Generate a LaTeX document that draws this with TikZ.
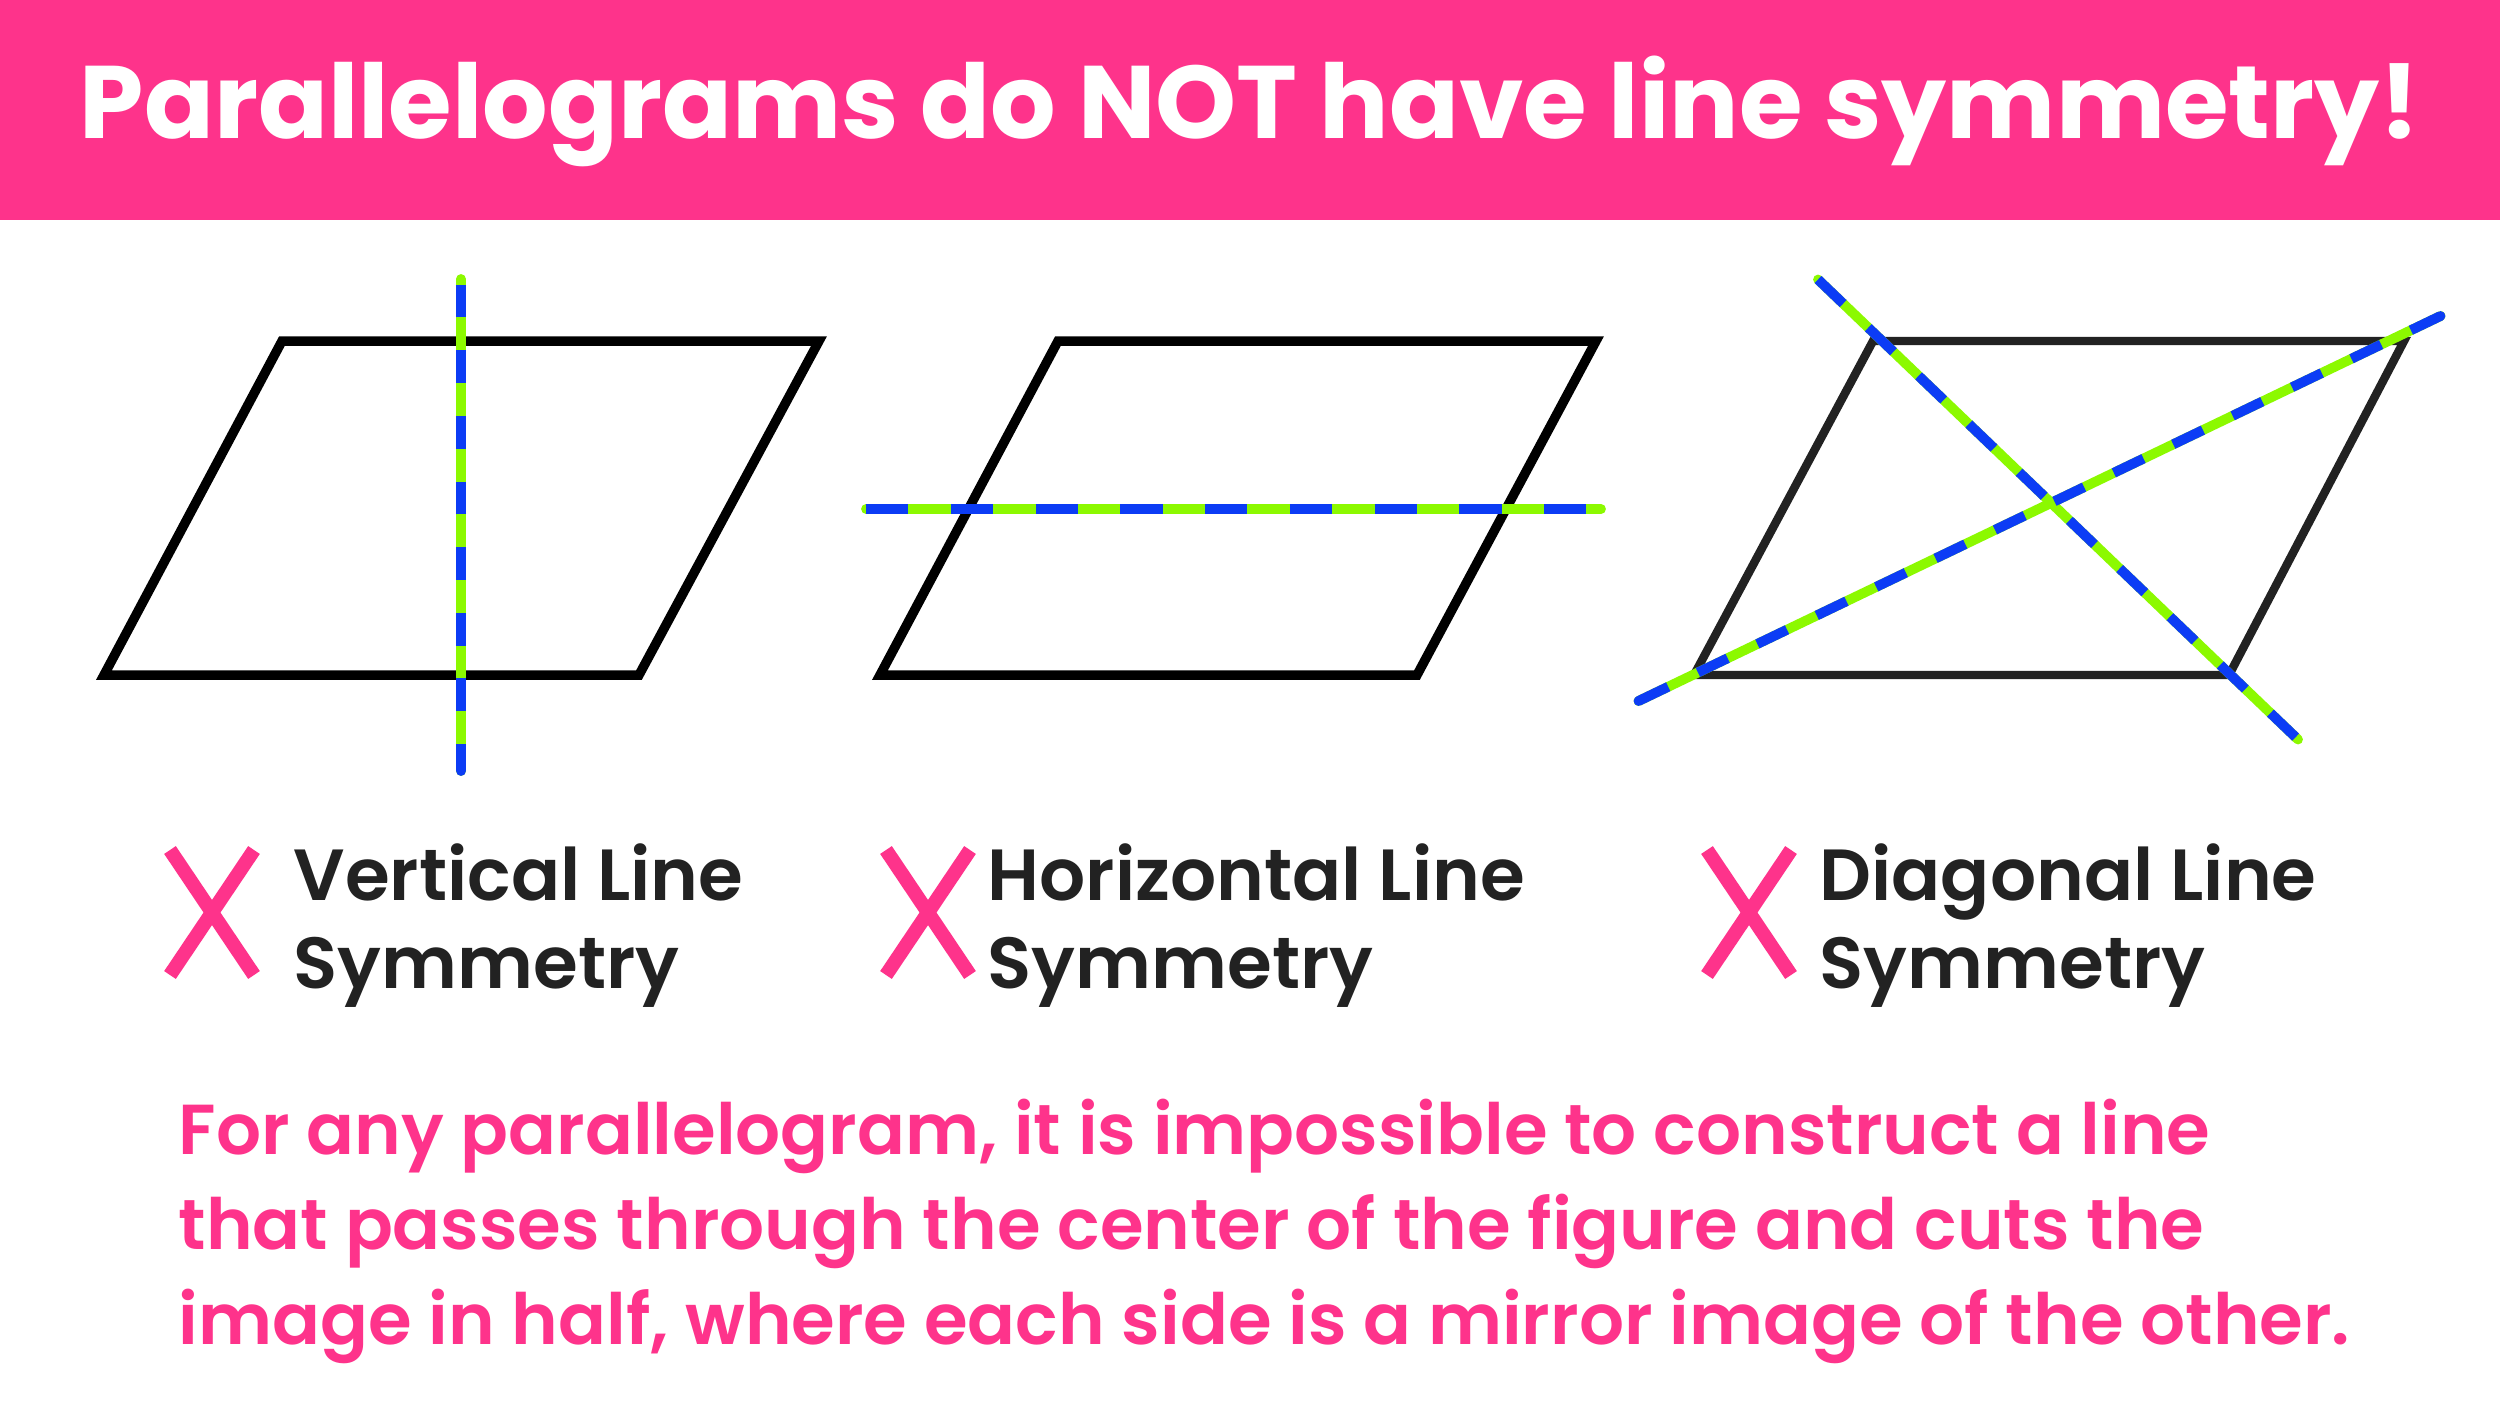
\documentclass[tikz,border=0pt]{standalone}
\usepackage{fontspec}
\setmainfont{Poppins}
\newfontfamily\semifont{Poppins SemiBold}
\usetikzlibrary{positioning}
\definecolor{hotpink}{HTML}{FE338B}
\definecolor{inkgrey}{HTML}{222222}
\definecolor{stripegreen}{HTML}{8CF900}
\definecolor{stripeblue}{HTML}{0C3CF5}

\begin{document}
\begin{tikzpicture}[x=0.01cm,y=-0.01cm]
\tikzset{
    banner/.style={
           rectangle,
           fill=hotpink,
           minimum width=25cm,
           minimum height=2.2cm,
           inner sep=0pt},
    headline/.style={
           text=white,
           inner sep=0pt,
           font=\fontsize{29.3}{31}\selectfont\bfseries},
    % parallelogram outline
    outline/.style={
           line width=2.7pt,
           miter limit=10,
           draw=black},
    % two coloured line of symmetry
    stripe/.style={
           line width=2.8pt,
           draw=stripeblue,
           dash pattern=on #1 off #1,
           preaction={draw=stripegreen,solid,line width=2.8pt,line cap=round}
    },
    crossbar/.style={
           line width=4pt,
           draw=hotpink},
    caption/.style={
           anchor=north west,
           inner sep=0pt,
           align=left,
           text=inkgrey,
           font=\fontsize{20.6}{25}\selectfont\semifont},
    remark/.style={
           anchor=north west,
           inner sep=0pt,
           align=left,
           text=hotpink,
           font=\fontsize{20.1}{27}\selectfont\semifont}
}
\useasboundingbox (0,0) rectangle (2500,1406);
\fill[white] (0,0) rectangle (2500,1406);
\node[banner] (banner) at (1250,110) {};
\node[headline,yshift=-0.5pt] (headline) at (banner.center) {Parallelograms do NOT have line symmetry!};
% the three figures
\draw[outline] (282,341) -- (819,341) -- (639,675) -- (104,675) -- cycle;
\draw[outline] (1058,341) -- (1596,341) -- (1417,675) -- (880,675) -- cycle;
\draw[outline,draw=inkgrey,line width=2.4pt] (1873,341) -- (2404,341) -- (2229,675) -- (1694,675) -- cycle;
% lines of symmetry
\coordinate (vtop) at (461,279);
\coordinate (vbot) at (461,771);
\coordinate (hleft) at (866,509);
\coordinate (hright) at (1601,509);
\coordinate (dtop) at (1818,279.5);
\coordinate (dbot) at (2298,739.5);
\coordinate (ebot) at (1638.5,701);
\coordinate (etop) at (2440.5,316);
\draw[stripe=9.33pt,dash phase=1.65pt] (vbot) -- (vtop);
\draw[stripe=12.05pt] (hleft) -- (hright);
\draw[stripe=9.9pt] (dtop) -- (dbot);
\draw[stripe=9.37pt] (ebot) -- (etop);
\foreach \tip in {vbot,ebot,etop}{
    \fill[stripeblue] (\tip) circle (1.4pt);
}
% crosses
\foreach \name/\xpos in {one/212,two/928,three/1749}{
    \coordinate (\name a) at (\xpos-42,850);
    \coordinate (\name b) at (\xpos+42,975);
    \coordinate (\name c) at (\xpos+42,850);
    \coordinate (\name d) at (\xpos-42,975);
    \draw[crossbar] (\name a) -- (\name b);
    \draw[crossbar] (\name c) -- (\name d);
}
\node[caption] (vertical) at (293,843) {Vertical Line\\Symmetry};
\node[caption] (horizontal) at (987,843) {Horizontal Line\\Symmetry};
\node[caption] (diagonal) at (1819,843) {Diagonal Line\\Symmetry};
\node[remark] (remark) at (178,1098) {For any parallelogram, it is impossible to construct a line\\that passes through the center of the figure and cuts the\\image in half, where each side is a mirror image of the other.};
\end{tikzpicture}
\end{document}
